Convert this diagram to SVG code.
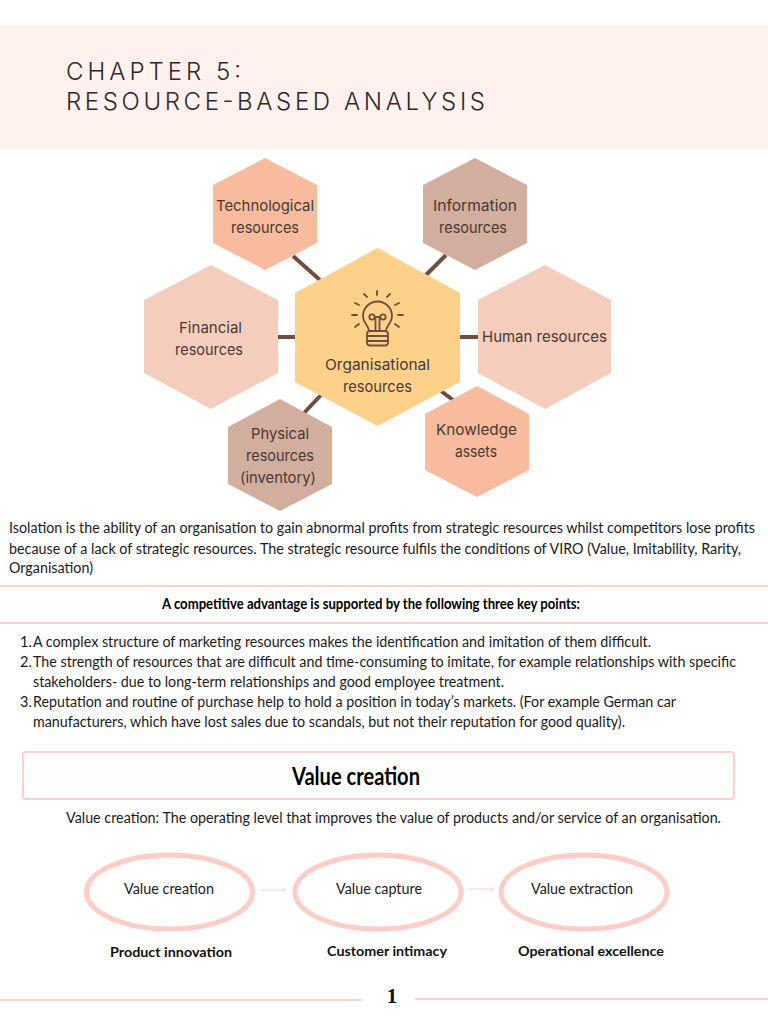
<svg xmlns="http://www.w3.org/2000/svg" width="768" height="1024" viewBox="0 0 768 1024">
<style>
text{font-family:"Lato","Liberation Sans",sans-serif;fill:#1a1a1a}
.h{font-family:"Inter","Noto Sans",sans-serif;font-size:15px;fill:#463a35}
.t{font-family:"Inter","Liberation Sans",sans-serif;font-size:24px;font-weight:300;fill:#2a2a2a}
.b{font-size:14.5px}
.s{font-size:14px;font-weight:700;fill:#111}
.d{font-weight:700;font-family:"Lato",sans-serif;fill:#000}
.c{stroke:#6f4e41;stroke-width:4;fill:none}
.i{stroke:#6f4e41;stroke-width:1.8;fill:none;stroke-linecap:round}
.r{stroke:#ffd0ca;stroke-width:2;fill:none}
.e{fill:#fff;stroke:#ffcdc6;stroke-width:5}
.a{stroke:#ffd0c8;stroke-width:1;fill:none}
.f{stroke:#ffc9b5;stroke-width:1.5;fill:none}
</style>
<rect width="768" height="1024" fill="#fff"/>
<rect id="header-band" x="0" y="25" width="768" height="124" fill="#fff1ed"/>
<g id="title">
<text class="t" x="66" y="80" textLength="175" lengthAdjust="spacing">CHAPTER 5:</text>
<text class="t" x="66" y="110" textLength="419" lengthAdjust="spacing">RESOURCE-BASED ANALYSIS</text>
</g>
<g id="connectors">
<line class="c" x1="293" y1="256" x2="320" y2="280"/>
<line class="c" x1="446" y1="255" x2="426" y2="275"/>
<line class="c" x1="278" y1="337" x2="295" y2="337"/>
<line class="c" x1="460" y1="337" x2="478" y2="337"/>
<line class="c" x1="321" y1="395" x2="304" y2="413"/>
<line class="c" x1="441" y1="391" x2="453" y2="400"/>
<g class="a">
<path d="M260 890H285M282 888.500L285 890L282 891.500"/>
<path d="M468 889H493M490 887.500L493 889L490 890.500"/>
</g>
</g>
<g id="node-technological">
<polygon points="265,158 317,185 317,243 265,270 213,243 213,185" fill="#f9bb9d"/>
<text class="h" x="216" y="211" textLength="98" lengthAdjust="spacingAndGlyphs">Technological</text>
<text class="h" x="231" y="233" textLength="68" lengthAdjust="spacingAndGlyphs">resources</text>
</g>
<g id="node-information">
<polygon points="475,158 527,185 527,243 475,270 423,243 423,185" fill="#d2ae9e"/>
<text class="h" x="433" y="211" textLength="84" lengthAdjust="spacingAndGlyphs">Information</text>
<text class="h" x="439" y="233" textLength="68" lengthAdjust="spacingAndGlyphs">resources</text>
</g>
<g id="node-financial">
<polygon points="211,265 278,300 278,373 211,409 144,373 144,300" fill="#f5cdbd"/>
<text class="h" x="179" y="333" textLength="63" lengthAdjust="spacingAndGlyphs">Financial</text>
<text class="h" x="175" y="355" textLength="68" lengthAdjust="spacingAndGlyphs">resources</text>
</g>
<g id="node-human">
<polygon points="545,265 611,300 611,373 545,409 478,373 478,300" fill="#f5cdbd"/>
<text class="h" x="482" y="342" textLength="125" lengthAdjust="spacingAndGlyphs">Human resources</text>
</g>
<g id="node-organisational">
<polygon points="377.500,248 460,293 460,382 377.500,426 295,382 295,293" fill="#fed18a"/>
<g id="bulb" class="i">
<path d="M369 331C369 326 363 323 363 316A14.500 14.500 0 0 1 392 316C392 323 386 326 386 331"/>
<circle cx="372" cy="317" r="2.700"/><circle cx="383" cy="317" r="2.700"/>
<path d="M374.700 317H380.300M375.500 319V331M379.500 319V331"/>
<rect x="367" y="331" width="21" height="14.500" rx="3"/>
<path d="M367 336H388M367 341H388"/>
<path d="M377 291V295M364 294L367 297M390 294L387 297M355 303L359 305M399 303L395 305M352 315H357M398 315H403M355 327L359 324M399 327L395 324"/>
</g>
<text class="h" x="325" y="370" textLength="105" lengthAdjust="spacingAndGlyphs">Organisational</text>
<text class="h" x="343" y="392" textLength="69" lengthAdjust="spacingAndGlyphs">resources</text>
</g>
<g id="node-physical">
<polygon points="280,399 332,427 332,484 280,511 228,484 228,427" fill="#d2ae9e"/>
<text class="h" x="251" y="439" textLength="58" lengthAdjust="spacingAndGlyphs">Physical</text>
<text class="h" x="246" y="461" textLength="68" lengthAdjust="spacingAndGlyphs">resources</text>
<text class="h" x="240" y="483" textLength="76" lengthAdjust="spacingAndGlyphs">(inventory)</text>
</g>
<g id="node-knowledge">
<polygon points="477,386 529,414 529,470 477,497 425,470 425,414" fill="#f9bb9d"/>
<text class="h" x="436" y="435" textLength="81" lengthAdjust="spacingAndGlyphs">Knowledge</text>
<text class="h" x="455" y="457" textLength="42" lengthAdjust="spacingAndGlyphs">assets</text>
</g>
<g id="paragraph">
<text class="b" x="9" y="533" textLength="746" lengthAdjust="spacingAndGlyphs">Isolation is the ability of an organisation to gain abnormal profits from strategic resources whilst competitors lose profits</text>
<text class="b" x="9" y="554" textLength="732" lengthAdjust="spacingAndGlyphs">because of a lack of strategic resources. The strategic resource fulfils the conditions of VIRO (Value, Imitability, Rarity,</text>
<text class="b" x="9" y="573" textLength="84" lengthAdjust="spacingAndGlyphs">Organisation)</text>
</g>
<g id="key-points-heading">
<line class="r" x1="0" y1="586" x2="768" y2="586"/>
<line class="r" x1="0" y1="623" x2="768" y2="623"/>
<text class="d" x="162" y="609" font-size="15" textLength="418" lengthAdjust="spacingAndGlyphs">A competitive advantage is supported by the following three key points:</text>
</g>
<g id="list">
<text class="b" x="20" y="647">1.</text>
<text class="b" x="33" y="647" textLength="618" lengthAdjust="spacingAndGlyphs">A complex structure of marketing resources makes the identification and imitation of them difficult.</text>
<text class="b" x="20" y="667">2.</text>
<text class="b" x="33" y="667" textLength="703" lengthAdjust="spacingAndGlyphs">The strength of resources that are difficult and time-consuming to imitate, for example relationships with specific</text>
<text class="b" x="33" y="687" textLength="471" lengthAdjust="spacingAndGlyphs">stakeholders- due to long-term relationships and good employee treatment.</text>
<text class="b" x="20" y="707">3.</text>
<text class="b" x="33" y="707" textLength="643" lengthAdjust="spacingAndGlyphs">Reputation and routine of purchase help to hold a position in today’s markets. (For example German car</text>
<text class="b" x="33" y="727" textLength="592" lengthAdjust="spacingAndGlyphs">manufacturers, which have lost sales due to scandals, but not their reputation for good quality).</text>
</g>
<g id="value-creation-box">
<rect class="r" x="23" y="752" width="711" height="47" rx="3" fill="#fff"/>
<text class="d" x="292" y="785" font-size="24" textLength="128" lengthAdjust="spacingAndGlyphs">Value creation</text>
</g>
<text class="b" x="66" y="823" textLength="655" lengthAdjust="spacingAndGlyphs">Value creation: The operating level that improves the value of products and/or service of an organisation.</text>
<g id="node-value-creation">
<ellipse class="e" cx="169.500" cy="892" rx="83" ry="37"/>
<text class="b" x="124" y="894" textLength="90" lengthAdjust="spacingAndGlyphs">Value creation</text>
</g>
<g id="node-value-capture">
<ellipse class="e" cx="378" cy="892" rx="83" ry="37"/>
<text class="b" x="336" y="894" textLength="86" lengthAdjust="spacingAndGlyphs">Value capture</text>
</g>
<g id="node-value-extraction">
<ellipse class="e" cx="584" cy="892" rx="83" ry="37"/>
<text class="b" x="531" y="894" textLength="102" lengthAdjust="spacingAndGlyphs">Value extraction</text>
</g>
<g id="captions">
<text class="s" x="110" y="957" textLength="122" lengthAdjust="spacingAndGlyphs">Product innovation</text>
<text class="s" x="327" y="956" textLength="120" lengthAdjust="spacingAndGlyphs">Customer intimacy</text>
<text class="s" x="518" y="956" textLength="146" lengthAdjust="spacingAndGlyphs">Operational excellence</text>
</g>
<g id="footer">
<line class="f" x1="0" y1="1000" x2="362" y2="1000"/>
<line class="f" x1="415" y1="999" x2="768" y2="999"/>
<text x="392" y="1003" text-anchor="middle" font-size="21" style="font-family:'Liberation Serif',serif;font-weight:700;fill:#111">1</text>
</g>
</svg>
